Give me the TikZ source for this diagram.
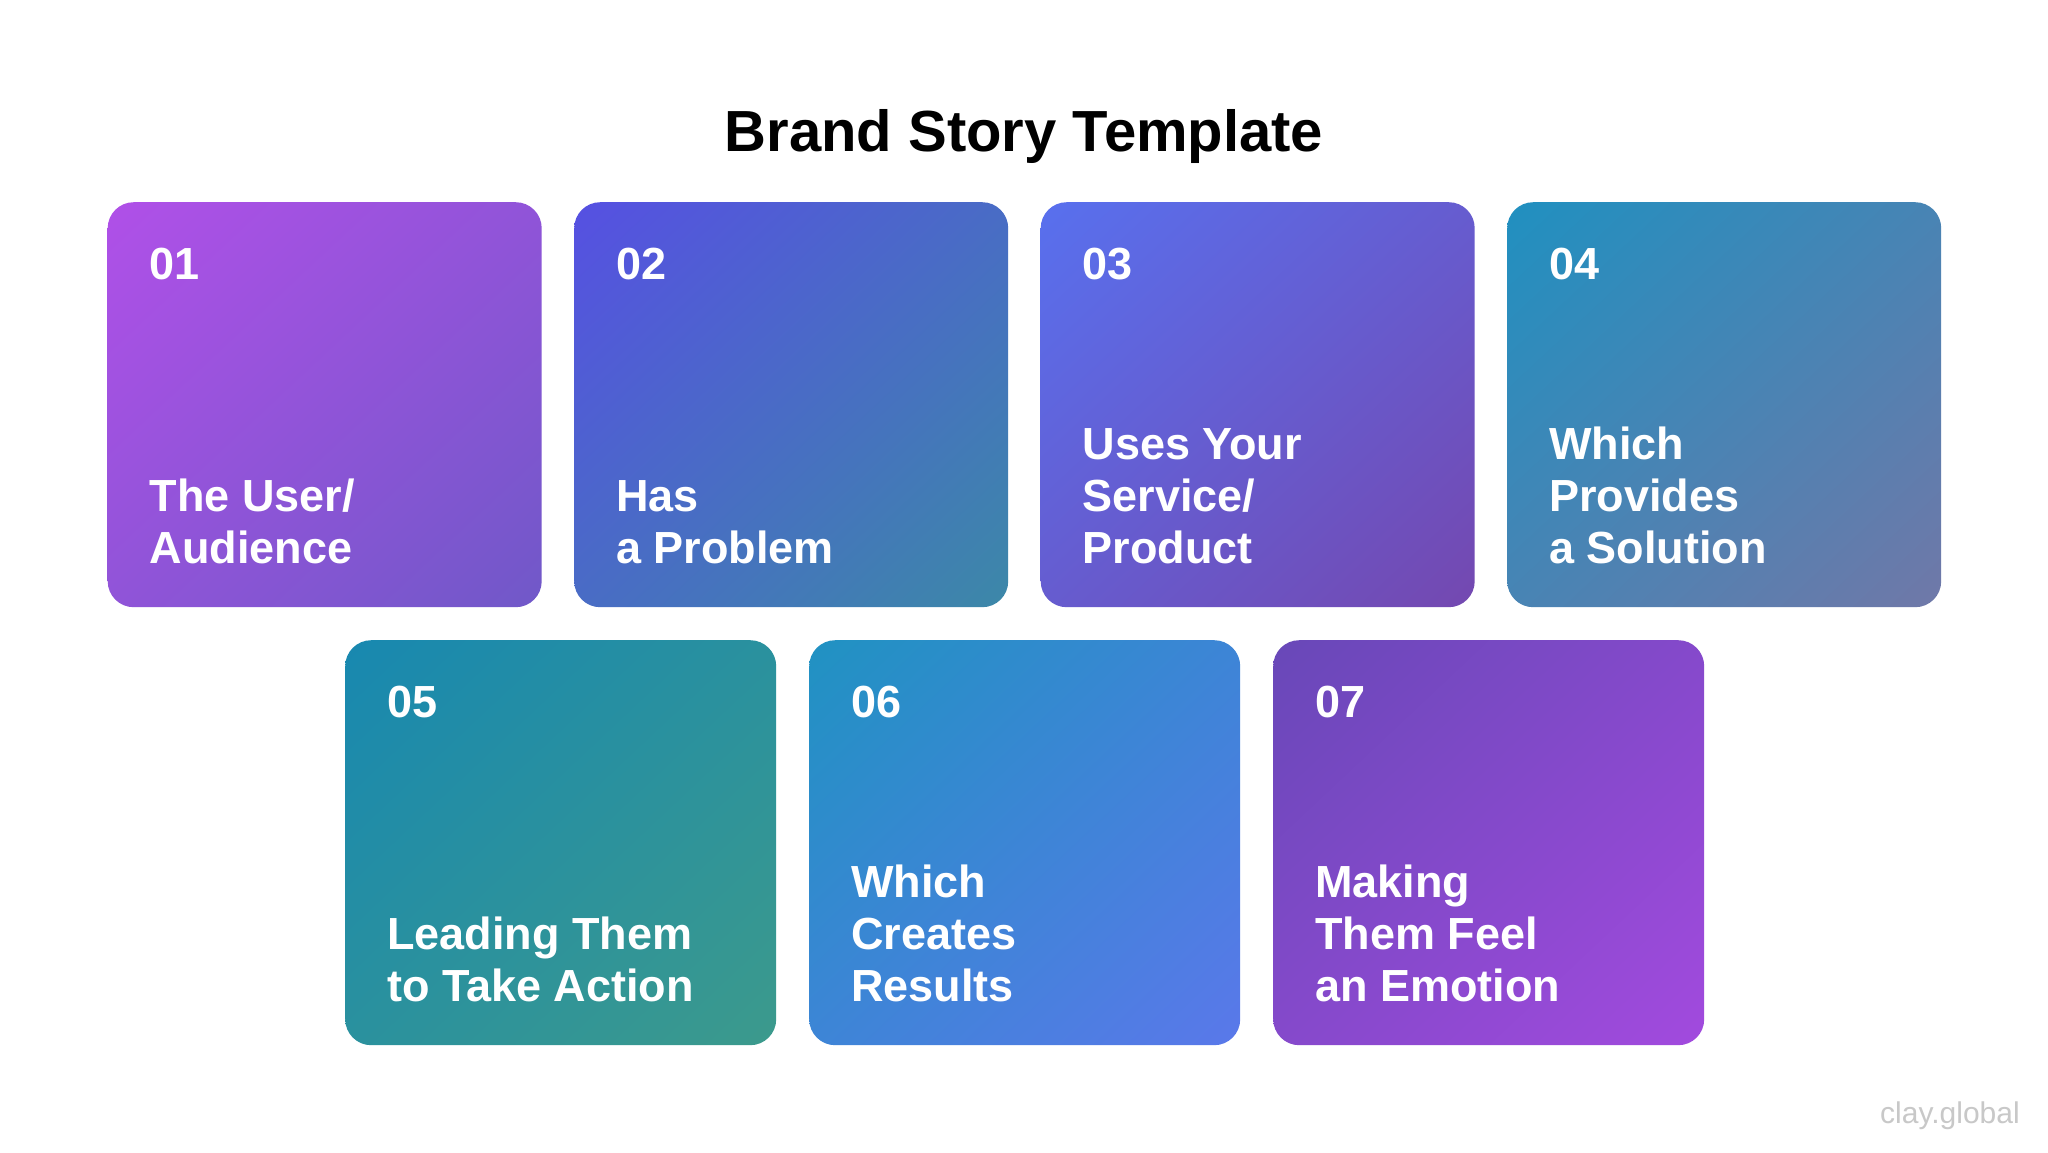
\documentclass[tikz,border=0pt]{standalone}
\usepackage{fontspec}
\setmainfont{Liberation Sans}
\usetikzlibrary{calc,shadings}
\definecolor{aTL}{HTML}{B050E8}\definecolor{aBR}{HTML}{7058C8}
\definecolor{bTL}{HTML}{5650E2}\definecolor{bBR}{HTML}{3C88A8}
\definecolor{cTL}{HTML}{5870EE}\definecolor{cBR}{HTML}{7448B0}
\definecolor{dTL}{HTML}{2090C0}\definecolor{dBR}{HTML}{7078A8}
\definecolor{eTL}{HTML}{1888B0}\definecolor{eBR}{HTML}{3C9A8C}
\definecolor{fTL}{HTML}{2092C2}\definecolor{fBR}{HTML}{5A78EA}
\definecolor{gTL}{HTML}{6848B8}\definecolor{gBR}{HTML}{A24ADE}
\definecolor{wmark}{HTML}{C8C8C8}
\tikzset{
  cardbox/.style={rectangle, rounded corners=26pt, inner sep=0pt, anchor=north west, draw=none},
  cardnum/.style={anchor=base west, inner sep=0pt, text=white, font=\fontsize{45}{52}\selectfont\bfseries},
  cardlabel/.style={anchor=base west, inner sep=0pt, text=white},
}
\newcommand{\mycard}[9]{%
  % #1 name, #2 x, #3 y, #4 width, #5 TL colour, #6 BR colour, #7 number, #8 label, #9 height
  \node[cardbox, minimum width=#4pt, minimum height=#9pt,
        upper left=#5, lower right=#6, upper right=#5!50!#6, lower left=#5!50!#6]
        (#1) at (#2,#3) {};
  \node[cardnum] (#1num) at ([shift={(42,77)}]#1.north west) {#7};
  \node[cardlabel] (#1lab) at ([shift={(42,-44)}]#1.south west)
     {\parbox[b]{390pt}{\raggedright\fontsize{45}{52}\selectfont\bfseries #8}};
}
\begin{document}
\begin{tikzpicture}[x=1pt,y=-1pt]
\useasboundingbox (0,0) rectangle (2048,1152);
\fill[white] (0,0) rectangle (2048,1152);
\node[anchor=base, inner sep=0pt, font=\fontsize{58}{64}\selectfont\bfseries] (title) at (1024,151) {Brand Story Template};
\mycard{c1}{107.5}{202}{434}{aTL}{aBR}{01}{The User/\\Audience}{405}
\mycard{c2}{574}{202}{434}{bTL}{bBR}{02}{Has\\a Problem}{405}
\mycard{c3}{1040.5}{202}{434}{cTL}{cBR}{03}{Uses Your\\Service/\\Product}{405}
\mycard{c4}{1507}{202}{434}{dTL}{dBR}{04}{Which\\Provides\\a Solution}{405}
\mycard{c5}{345}{640}{431}{eTL}{eBR}{05}{Leading Them\\to Take Action}{405}
\mycard{c6}{809}{640}{431}{fTL}{fBR}{06}{Which\\Creates\\Results}{405}
\mycard{c7}{1273}{640}{431}{gTL}{gBR}{07}{Making\\Them Feel\\an Emotion}{405}
\node[anchor=base west, inner sep=0pt, text=wmark, font=\fontsize{30}{33}\selectfont] (wm) at (1880,1123) {clay.global};
\end{tikzpicture}
\end{document}
